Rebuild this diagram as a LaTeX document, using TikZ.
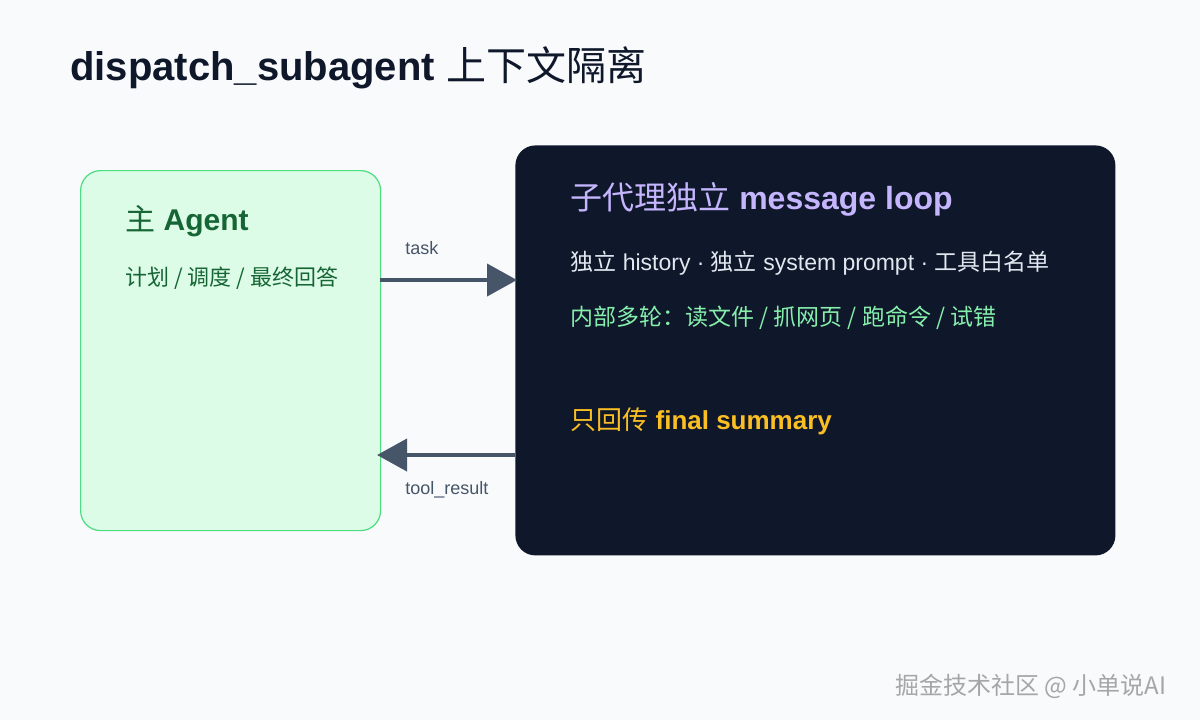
\documentclass[tikz,border=0pt]{standalone}
\usepackage{fontspec}
\setmainfont{Liberation Sans}
\newfontfamily\cjk{Noto Sans CJK SC}
\usetikzlibrary{arrows.meta}
\definecolor{bg}{HTML}{F8FAFC}
\definecolor{gfill}{HTML}{DCFCE7}
\definecolor{gline}{HTML}{4ADE80}
\definecolor{gtext}{HTML}{166534}
\definecolor{dark}{HTML}{0F172A}
\definecolor{lav}{HTML}{C4B5FD}
\definecolor{lt}{HTML}{E2E8F0}
\definecolor{lgreen}{HTML}{86EFAC}
\definecolor{yel}{HTML}{FBBF24}
\definecolor{arr}{HTML}{475569}
\definecolor{ttl}{HTML}{0F172A}
\tikzset{
  txt/.style={anchor=base west,inner sep=0pt},
  conn/.style={draw=arr,line width=2pt,-{Triangle[length=15pt,width=16pt]}},
  lbl/.style={txt,text=arr,font=\fontsize{9}{11}\selectfont}
}
\begin{document}
\begin{tikzpicture}[x=0.5pt,y=-0.5pt]
\fill[bg] (0,0) rectangle (1200,720);
\useasboundingbox (0,0) rectangle (1200,720);
\node[txt,text=ttl,font=\fontsize{20}{24}\selectfont] (title) at (70,80) {\textbf{dispatch\_subagent} {\cjk 上下文隔离}};
\node[draw=gline,fill=gfill,line width=0.6pt,rounded corners=10pt,minimum width=150pt,minimum height=180pt,anchor=north west,inner sep=0pt] (main) at (80,170) {};
\node[fill=dark,rounded corners=10pt,minimum width=300pt,minimum height=205pt,anchor=north west,inner sep=0pt] (sub) at (515,145) {};
\node[txt,text=gtext,font=\fontsize{15}{18}\selectfont] (mt) at (125,230) {{\cjk 主} \textbf{Agent}};
\node[txt,text=gtext,font=\fontsize{11}{14}\selectfont\cjk] (ms) at (125,285) {计划 / 调度 / 最终回答};
\node[txt,text=lav,font=\fontsize{16}{19}\selectfont] (st) at (570,209) {{\cjk 子代理独立} \textbf{message loop}};
\node[txt,text=lt,font=\fontsize{11.5}{14}\selectfont] (s1) at (570,270) {{\cjk 独立} history · {\cjk 独立} system prompt · {\cjk 工具白名单}};
\node[txt,text=lgreen,font=\fontsize{11.5}{14}\selectfont\cjk] (s2) at (570,325) {内部多轮：读文件 / 抓网页 / 跑命令 / 试错};
\node[txt,text=yel,font=\fontsize{13}{16}\selectfont] (s3) at (570,429) {{\cjk 只回传} \textbf{final summary}};
\coordinate (a1) at (380,280);
\coordinate (b1) at (517,280);
\coordinate (a2) at (515,455);
\coordinate (b2) at (377,455);
\draw[conn] (a1) -- (b1);
\draw[conn] (a2) -- (b2);
\node[lbl] (l1) at (405,254) {task};
\node[lbl] (l2) at (405,494) {tool\_result};
\node[txt,text=gray!70,font=\fontsize{12}{14}\selectfont\cjk] (wm) at (895,694) {掘金技术社区 @ 小单说AI};
\end{tikzpicture}
\end{document}
